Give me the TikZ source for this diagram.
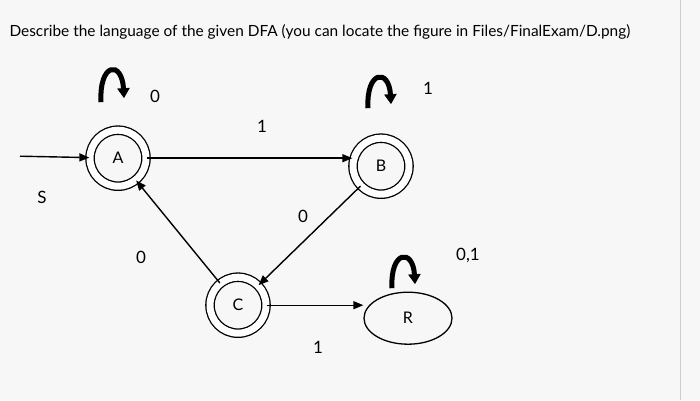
\documentclass[tikz,border=0pt]{standalone}
\usepackage{fontspec}
\setmainfont{Lato}
\usetikzlibrary{arrows.meta,shapes.geometric}
\begin{document}
\begin{tikzpicture}[x=1pt,y=-1pt,
  acc/.style={circle,draw,line width=1.3pt,minimum size=56pt,double distance=7pt,font=\fontsize{16}{16}\selectfont},
  plain/.style={ellipse,draw,line width=1.3pt,minimum width=88pt,minimum height=52pt,font=\fontsize{16}{16}\selectfont},
  edge/.style={line width=1.4pt,-{Triangle[length=10pt,width=8pt]}},
  loopa/.style={line width=5pt,-{Triangle[length=10pt,width=12pt]}},
  lab/.style={font=\fontsize{17}{17}\selectfont}]
\fill[black!3] (0,0) rectangle (700,400);
\draw[black!20] (680,0) -- (680,400);
\node[anchor=west,font=\fontsize{15.4}{16}\selectfont] (t) at (6,32) {Describe the language of the given DFA (you can locate the figure in Files/FinalExam/D.png)};
\node[acc] (A) at (118,158) {A};
\node[acc] (B) at (381,166) {B};
\node[acc] (C) at (238,305) {C};
\node[plain] (R) at (408,318) {R};
\coordinate (s) at (20,156);
\draw[edge] (s) -- (A);
\draw[edge] (A) -- (B.west|-A);
\draw[edge] (B) -- (C);
\draw[edge] (C) -- (A);
\draw[edge] (C.east) -- (R.west|-C.east);
\draw[loopa] ([shift={(-17,-56)}]A.center) .. controls ([shift={(-19,-96)}]A.center) and ([shift={(4,-98)}]A.center) .. ([shift={(6,-60)}]A.center);
\draw[loopa] ([shift={(-13,-58)}]B.center) .. controls ([shift={(-15,-96)}]B.center) and ([shift={(8,-98)}]B.center) .. ([shift={(10,-62)}]B.center);
\draw[loopa] ([shift={(-16,-30)}]R.center) .. controls ([shift={(-18,-68)}]R.center) and ([shift={(5,-70)}]R.center) .. ([shift={(7,-34)}]R.center);
\node[lab] (l1) at (42,197) {S};
\node[lab] (l2) at (155,96) {0};
\node[lab] (l3) at (262,126) {1};
\node[lab] (l4) at (428,88) {1};
\node[lab] (l5) at (303,216) {0};
\node[lab] (l6) at (141,257) {0};
\node[lab] (l7) at (468,255) {0,1};
\node[lab] (l8) at (318,347) {1};
\end{tikzpicture}
\end{document}
